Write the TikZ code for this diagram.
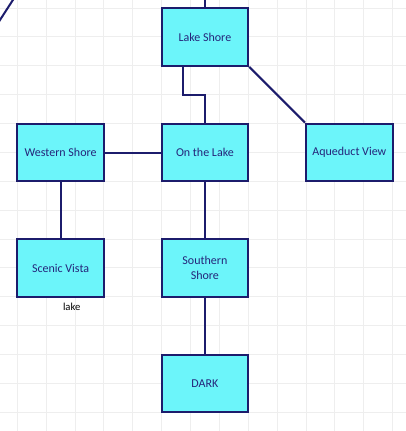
\documentclass[tikz,border=0pt]{standalone}
\usepackage{fontspec}
\setmainfont{Carlito}
\usetikzlibrary{calc}
\definecolor{boxfill}{HTML}{6CF5FA}
\definecolor{boxline}{HTML}{1C1C6C}
\definecolor{boxtext}{HTML}{25257A}
\definecolor{gridc}{HTML}{EEEEEE}
\tikzset{
  place/.style={draw=boxline, line width=1.5pt, fill=boxfill, text=boxtext,
    minimum width=64.95pt, minimum height=43.3pt, inner sep=0pt, align=center,
    font=\fontsize{9pt}{11.5pt}\selectfont},
  link/.style={draw=boxline, line width=1.5pt},
  gridline/.style={draw=gridc, line width=0.75pt}
}
\begin{document}
\begin{tikzpicture}[x=0.75pt,y=-0.75pt]
\useasboundingbox (0,0) rectangle (406,431);
\fill[white] (0,0) rectangle (406,431);
\foreach \k in {0,...,13} {
  \draw[gridline] ({17.3+28.87*\k},0) -- ({17.3+28.87*\k},431);
}
\foreach \k in {0,...,14} {
  \draw[gridline] (0,{8.1+28.87*\k}) -- (406,{8.1+28.87*\k});
}
% nodes
\node[place] (ls) at (204.9,37.0) {Lake Shore};
\node[place] (ws) at (60.6,152.5) {Western Shore};
\node[place] (otl) at (204.9,152.5) {On the Lake};
\node[place] (av) at (349.3,152.5) {Aqueduct View};
\node[place] (sv) at (60.6,268) {Scenic Vista};
\node[place] (ss) at (204.9,268) {Southern\\Shore};
\node[place] (dk) at (204.9,383.4) {DARK};
\node[font=\fontsize{8pt}{9pt}\selectfont, text=black] (lk) at (71.7,307) {lake};
% free ends
\coordinate (topend) at (204.9,-2);
\coordinate (tlA) at (-3,24.6);
\coordinate (tlB) at (14.2,-2);
\coordinate (bend) at (183.3,94.7);
% connectors
\draw[link] (ls.north) -- (topend);
\draw[link] (tlA) -- (tlB);
\draw[link] (ls.south -| bend) -- (bend) -| (otl.north);
\draw[link] (ls.south east) -- (av.north west);
\draw[link] (ws.east) -- (otl.west);
\draw[link] (ws.south) -- (sv.north);
\draw[link] (otl.south) -- (ss.north);
\draw[link] (ss.south) -- (dk.north);
\end{tikzpicture}
\end{document}
